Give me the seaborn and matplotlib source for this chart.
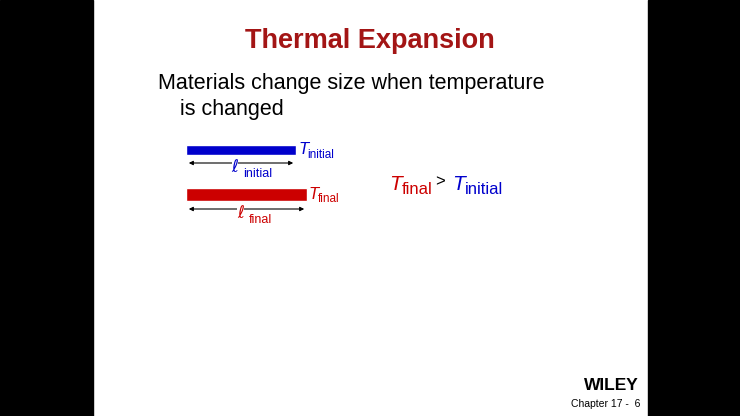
import matplotlib
matplotlib.use("Agg")
import matplotlib.pyplot as plt
import seaborn as sns

sns.set_theme(style="white")
plt.rcParams['font.family'] = ['Liberation Sans', 'DejaVu Sans']

labels = ["initial", "final"]
lengths = [110, 121]
colors = ["#0000CC", "#CC0000"]
bar_y = [150, 194.5]
bar_h = [10, 13]

fig = plt.figure(figsize=(7.4, 4.16), dpi=100)
ax = fig.add_axes([0, 0, 1, 1])
ax.set_xlim(0, 740); ax.set_ylim(416, 0); ax.axis("off")
ax.axvspan(0, 93, color="black"); ax.axvspan(648, 740, color="black")

ax.text(370, 41, "Thermal Expansion", ha="center", va="center", fontsize=19.5, fontweight="bold", color="#A31515")
ax.text(158, 83, "Materials change size when temperature", ha="left", va="center", fontsize=15.5, color="black")
ax.text(180, 109, "is changed", ha="left", va="center", fontsize=15.5, color="black")

x0 = 186
for lab, L, c, y, h in zip(labels, lengths, colors, bar_y, bar_h):
    ax.barh(y, L, left=x0, height=h, color=c)
    ay = y + h / 2 + 8
    ax.annotate("", xy=(x0, ay), xytext=(x0 + L, ay), arrowprops=dict(arrowstyle="<|-|>", lw=0.8, color="black", mutation_scale=6))
    mid = x0 + L / 2
    ax.text(mid - 6, ay + 4, "ℓ", family=["DejaVu Sans"], fontsize=12, style="italic", ha="center", va="center", color=c, bbox=dict(fc="white", ec="none", pad=0))
    ax.text(mid + 2, ay + 11, lab, fontsize=9, ha="left", va="center", color=c, bbox=dict(fc="white", ec="none", pad=0))
    ax.text(x0 + L + 2, y, "T", fontsize=12, style="italic", ha="left", va="center", color=c)
    ax.text(x0 + L + 11, y + 5, lab, fontsize=8.5, ha="left", va="center", color=c)

ax.text(389, 184, "T", fontsize=15, style="italic", ha="left", va="center", color="#CC0000")
ax.text(402, 190, "final", fontsize=12, ha="left", va="center", color="#CC0000")
ax.text(435, 182, ">", fontsize=12, ha="left", va="center", color="black")
ax.text(452, 184, "T", fontsize=15, style="italic", ha="left", va="center", color="#0000CC")
ax.text(465, 190, "initial", fontsize=12, ha="left", va="center", color="#0000CC")

ax.text(639, 386, "WILEY", fontsize=12.5, fontweight="bold", ha="right", va="center", color="black")
ax.text(640, 404, "Chapter 17 -  6", fontsize=7.5, ha="right", va="center", color="black")

fig.savefig("out.png", dpi=100)
